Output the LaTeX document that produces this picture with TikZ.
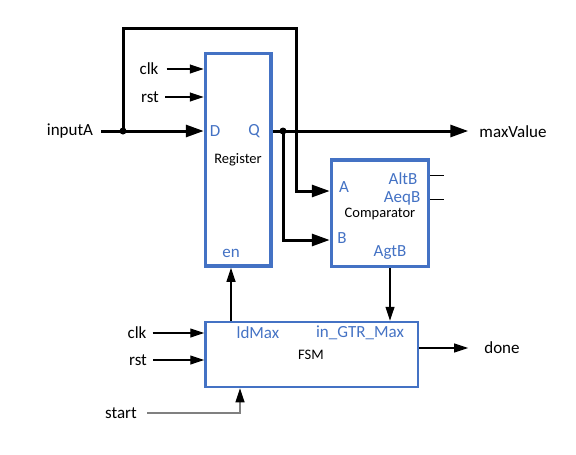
\documentclass[tikz,border=0pt]{standalone}
\usepackage{fontspec}
\setmainfont{Carlito}
\usetikzlibrary{arrows.meta}
\definecolor{portblue}{RGB}{68,114,196}
\begin{document}
\begin{tikzpicture}[x=1pt,y=-1pt,
	font=\fontsize{17}{20}\selectfont,
	block/.style={draw=portblue,line width=3.5pt,inner sep=0pt},
	port/.style={text=portblue,inner sep=0pt},
	title/.style={font=\fontsize{14.5}{17}\selectfont,inner sep=0pt},
	sig/.style={inner sep=0pt},
	bus/.style={line width=3pt,-{Triangle[length=18pt,width=12pt]}},
	wire/.style={line width=1.2pt,-{Triangle[length=14pt,width=9pt]}}]
	\useasboundingbox (0,0) rectangle (576,455);
	%			Khoi
	\node[block,minimum width=65.5pt,minimum height=212.5pt] (reg) at (238.25,159.75) {};
	\node[block,minimum width=97pt,minimum height=106.5pt] (cmp) at (380,213.25) {};
	\node[block,line width=2.5pt,minimum width=212.5pt,minimum height=65pt] (fsm) at (311.75,354.5) {};
	%			Cong
	\node[port] (d) at (215,131) {D};
	\node[port] (q) at (254,131) {Q};
	\node[title] (regname) at (238,160) {Register};
	\node[port] (en) at (231,253) {en};
	\node[port] (a) at (344,187) {A};
	\node[port] (b) at (342,238) {B};
	\node[port] (altb) at (403,179) {AltB};
	\node[port] (aeqb) at (402,198) {AeqB};
	\node[title] (cmpname) at (380,214) {Comparator};
	\node[port] (agtb) at (390,253) {AgtB};
	\node[port] (ldmax) at (258,333) {ldMax};
	\node[port] (ingtr) at (360,333) {in\_GTR\_Max};
	\node[title] (fsmname) at (311,355) {FSM};
	%			Tin hieu
	\node[sig] (inA) at (70,131) {inputA};
	\node[sig] (clkR) at (149,69) {clk};
	\node[sig] (rstR) at (150,97) {rst};
	\node[sig] (maxV) at (513,132) {maxValue};
	\node[sig] (clkF) at (137,333) {clk};
	\node[sig] (rstF) at (138,360) {rst};
	\node[sig] (done) at (502,348) {done};
	\node[sig] (start) at (121,413) {start};
	\coordinate (inSplit) at (123,131);
	\coordinate (loopTop) at (296,28);
	\coordinate (qSplit) at (283,131);
	\coordinate (startIn) at (240,0);
	%			Day
	\draw[bus,shorten <=8pt] (inA.east) -- (inA -| reg.west);
	\draw[bus] (inSplit) |- (loopTop) |- (cmp.west |- 0,191);
	\draw[bus,shorten >=11pt] (reg.east |- q) -- (maxV.west |- q);
	\draw[bus] (qSplit) |- (cmp.west |- 0,240);
	\fill (inSplit) circle (3.5pt);
	\fill (qSplit) circle (3.5pt);
	\draw[wire,shorten <=8pt] (clkR.east) -- (clkR -| reg.west);
	\draw[wire,shorten <=6pt] (rstR.east) -- (rstR -| reg.west);
	\draw[line width=1pt] (cmp.east |- 0,175) -- ++(14,0);
	\draw[line width=1pt] (cmp.east |- 0,199) -- ++(14,0);
	\draw[wire] (cmp.south -| agtb) -- (fsm.north -| agtb);
	\draw[wire] (fsm.north -| en) -- (reg.south -| en);
	\draw[wire,shorten <=6pt] (clkF.east) -- (clkF -| fsm.west);
	\draw[wire,shorten <=6pt] (rstF.east) -- (rstF -| fsm.west);
	\draw[wire,shorten >=16pt] (fsm.east |- done) -- (done.west);
	\draw[wire,draw=gray,-{Triangle[length=14pt,width=9pt,color=black]},shorten <=10pt] (start.east) -| (startIn |- fsm.south);
\end{tikzpicture}
\end{document}
